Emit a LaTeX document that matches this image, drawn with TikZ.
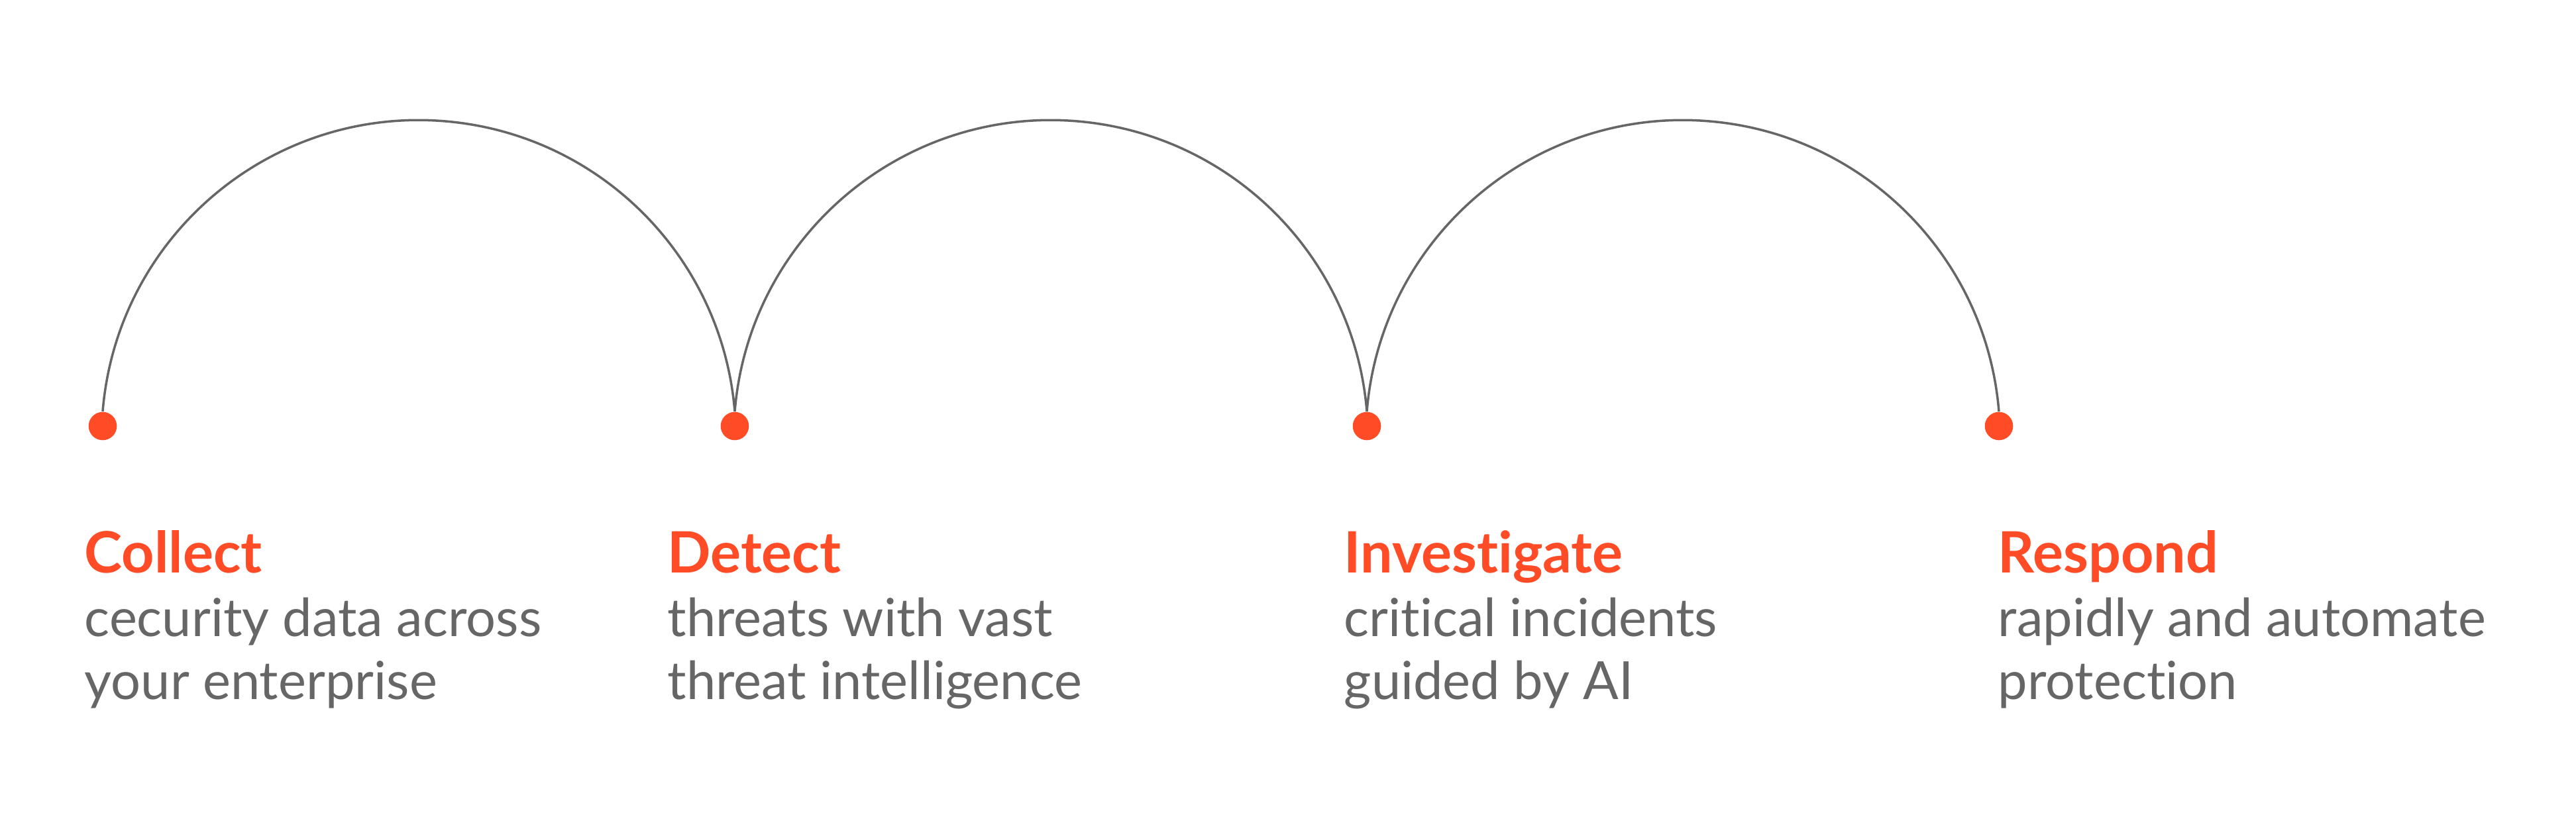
\documentclass[tikz,border=0pt]{standalone}
\usepackage{fontspec}
\setmainfont{Lato}[Ligatures=NoCommon]
\definecolor{accent}{HTML}{FF4B26}
\definecolor{ink}{HTML}{666666}

\begin{document}
\begin{tikzpicture}[node distance=9.54cm,
  dot/.style={circle, fill=accent, inner sep=0pt, minimum size=4.26mm},
  hop/.style={draw=ink, line width=1pt},
  heading/.style={anchor=base west, inner sep=0pt, text=accent,
    font=\fontsize{24.5}{30}\selectfont\bfseries},
  blurb/.style={anchor=base west, inner sep=0pt, text=ink, align=left,
    font=\fontsize{22.6}{27}\selectfont}]
\useasboundingbox (0,0) rectangle (38.88,-12.36);

% the four steps
\node [dot] (C) at (1.55,-6.43) {};
\node [dot, right of = C] (D) {};
\node [dot, right of = D] (I) {};
\node [dot, right of = I] (R) {};

% hops between them
\draw[hop] (C.north) arc[start angle=175.34, end angle=4.66, radius=4.786];
\draw[hop] (D.north) arc[start angle=175.34, end angle=4.66, radius=4.786];
\draw[hop] (I.north) arc[start angle=175.34, end angle=4.66, radius=4.786];

% labels (base of a two-line blurb is its last line)
\node [heading] (tC) at (1.27,-8.64)  {Collect};
\node [heading] (tD) at (10.07,-8.64) {Detect};
\node [heading] (tI) at (20.28,-8.64) {Investigate};
\node [heading] (tR) at (30.15,-8.64) {Respond};

\node [blurb] (bC) at (1.27,-10.55)  {cecurity data across\\your enterprise};
\node [blurb] (bD) at (10.07,-10.55) {threats with vast\\threat intelligence};
\node [blurb] (bI) at (20.28,-10.55) {critical incidents\\guided by AI};
\node [blurb] (bR) at (30.15,-10.55) {rapidly and automate\\protection};
\end{tikzpicture}
\end{document}
